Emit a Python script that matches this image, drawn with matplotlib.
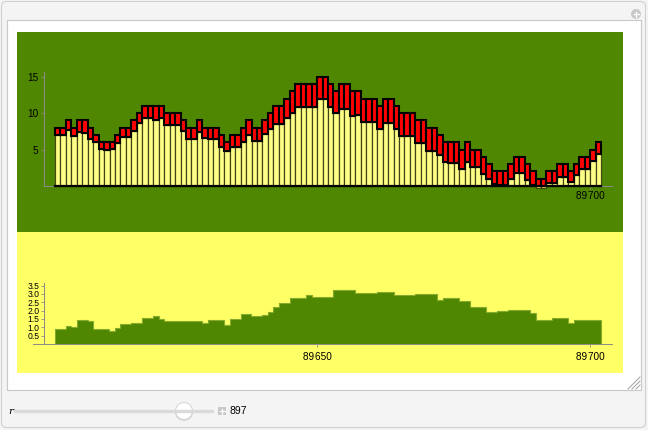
import numpy as np
import matplotlib
matplotlib.use("Agg")
import matplotlib.pyplot as plt
from matplotlib.patches import Rectangle, Circle, FancyBboxPatch

plt.rcParams['font.family'] = ['Liberation Sans', 'DejaVu Sans']

# ---- data ----
start_year = 89602
totals = [8, 8, 9, 8, 9, 9, 8, 7, 6, 6, 6, 7, 8, 8, 9, 10, 11, 11, 11, 11,
          10, 10, 10, 9, 8, 8, 9, 8, 8, 8, 7, 6, 7, 7, 8, 9, 8, 8, 9, 10,
          11, 11, 12, 13, 14, 14, 14, 14, 15, 15, 14, 13, 14, 14, 13, 13, 12, 12, 12, 11,
          12, 12, 11, 10, 10, 10, 9, 9, 8, 8, 7, 6, 6, 6, 5, 6, 5, 5, 4, 3,
          2, 2, 2, 3, 4, 4, 3, 2, 1, 1, 2, 2, 3, 3, 2, 3, 4, 4, 5, 6]
yellow = [7.0, 7.0, 7.75, 6.9, 7.4, 7.3, 6.5, 6.05, 5.05, 5.0, 5.1, 5.9, 6.7, 6.7, 7.5, 8.6, 9.3, 9.3, 9.1, 9.4,
          8.4, 8.4, 8.4, 7.5, 6.5, 6.5, 7.4, 6.6, 6.4, 6.4, 5.4, 4.85, 5.4, 5.4, 6.05, 7.0, 6.2, 6.2, 7.1, 7.9,
          8.55, 8.55, 9.3, 10.0, 10.9, 10.9, 10.8, 10.9, 11.9, 11.9, 10.9, 10.0, 10.55, 10.55, 9.55, 9.8, 8.8, 8.8, 8.8, 7.85,
          8.6, 8.6, 7.85, 6.85, 6.85, 6.85, 5.85, 5.85, 4.85, 4.85, 4.2, 3.3, 3.1, 3.1, 2.3, 3.3, 2.6, 2.6, 1.6, 1.0,
          0.3, 0.1, 0.1, 1.0, 1.8, 1.8, 0.8, 0.1, -0.25, -0.25, 0.4, 0.4, 1.3, 1.3, 0.6, 1.55, 2.4, 2.4, 3.5, 4.45]
bottom_vals = [0.9, 0.9, 1.1, 1.0, 1.45, 1.45, 1.35, 0.88, 0.88, 0.88, 0.8, 0.98, 1.18, 1.18, 1.26, 1.26, 1.56, 1.56, 1.68, 1.48,
               1.4, 1.4, 1.4, 1.4, 1.4, 1.4, 1.4, 1.24, 1.42, 1.42, 1.42, 1.12, 1.47, 1.47, 1.8, 1.8, 1.68, 1.68, 1.74, 1.92,
               2.23, 2.44, 2.44, 2.75, 2.75, 2.75, 2.95, 2.83, 2.83, 2.83, 2.83, 3.25, 3.25, 3.25, 3.25, 3.05, 3.05, 3.05, 3.05, 3.13,
               3.13, 3.13, 2.95, 2.95, 2.95, 2.95, 2.99, 2.99, 2.99, 2.99, 2.63, 2.73, 2.73, 2.73, 2.55, 2.55, 2.21, 2.21, 2.21, 1.9,
               1.9, 1.96, 1.96, 2.03, 2.03, 2.03, 2.03, 1.87, 1.42, 1.42, 1.42, 1.56, 1.56, 1.56, 1.24, 1.42, 1.42, 1.42, 1.42, 1.42]
top_yticks = [5, 10, 15]
top_xticks = [89700]
bottom_yticks = [0.5, 1.0, 1.5, 2.0, 2.5, 3.0, 3.5]
bottom_xticks = [89650, 89700]
slider_value = "897"

W, H = 648, 430
fig = plt.figure(figsize=(W / 100, H / 100), dpi=100)
fig.patch.set_facecolor('#f4f4f4')

def px_axes(x0, y0, x1, y1, **kw):
    return fig.add_axes([x0 / W, 1 - y1 / H, (x1 - x0) / W, (y1 - y0) / H], **kw)

def grouped(v):
    s = str(v)
    return s[:-3] + '\u200a' + s[-3:]

# background / UI layer
bg = fig.add_axes([0, 0, 1, 1], zorder=0)
bg.set_xlim(0, W); bg.set_ylim(H, 0); bg.axis('off')
bg.add_patch(FancyBboxPatch((1.5, 1.5), W - 4, H - 4, boxstyle="round,pad=0,rounding_size=5",
                            facecolor='#f4f4f4', edgecolor='#d0d0d0', lw=0.8))
bg.add_patch(Rectangle((7, 20), 634, 370, facecolor='white', edgecolor='#c8c8c8', lw=0.8))
green = '#4f8800'
bg.add_patch(Rectangle((17, 32), 606, 200, facecolor=green, edgecolor='none'))
bg.add_patch(Rectangle((17, 232), 606, 141, facecolor='#ffff66', edgecolor='none'))
# top-right icon
bg.add_patch(Circle((636, 14), 5, facecolor='#c8c8c8', edgecolor='none'))
bg.plot([633.5, 638.5], [14, 14], color='white', lw=1)
bg.plot([636, 636], [11.5, 16.5], color='white', lw=1)
# resize grip
for d in (4, 8, 12):
    bg.plot([640 - d, 640], [389, 389 - d], color='#a0a0a0', lw=0.7)
# slider
bg.text(8, 411, 'r', fontsize=7.5, style='italic', va='center', ha='left', family='DejaVu Serif')
bg.plot([15, 212], [411, 411], color='#dadada', lw=2.5, solid_capstyle='round')
bg.add_patch(Circle((184, 412), 9, facecolor='#d8d8d8', edgecolor='none'))
bg.add_patch(Circle((184, 411), 8.5, facecolor='white', edgecolor='#cfcfcf', lw=0.6))
bg.add_patch(Rectangle((218, 407), 8, 8, facecolor='#c9c9c9', edgecolor='none'))
bg.plot([219.5, 224.5], [411, 411], color='white', lw=0.9)
bg.plot([222, 222], [408.5, 413.5], color='white', lw=0.9)
bg.text(230, 411, slider_value, fontsize=7.5, va='center', ha='left')

# ---- top stacked bar chart ----
n = len(totals)
xc = start_year + np.arange(n) + 0.5
tot = np.array(totals, dtype=float)
yel = np.array(yellow, dtype=float)
red_bottom = np.maximum(yel, 0)
red_h = tot - red_bottom

ax1 = px_axes(44, 71.7, 612, 190.4, zorder=1)
ax1.set_facecolor('none')
ax1.set_xlim(89600, 89704)
ax1.set_ylim(-0.6, 15.7)
ax1.bar(xc, yel, width=1.0, color='#ffff88', edgecolor=(0.1, 0.1, 0, 0.7), linewidth=0.9, zorder=2)
ax1.bar(xc, red_h, bottom=red_bottom, width=1.0, color='#ff0000', edgecolor='black', linewidth=1.5, zorder=3)
ax1.plot([start_year, start_year + n], [0, 0], color='black', lw=1.6, zorder=4)
for s in ('top', 'right'):
    ax1.spines[s].set_visible(False)
ax1.spines['bottom'].set_position(('data', 0))
ax1.spines['left'].set_bounds(0, 15.7)
for s in ('bottom', 'left'):
    ax1.spines[s].set_color('#8c8c8c')
    ax1.spines[s].set_linewidth(0.7)
ax1.set_yticks(top_yticks)
ax1.set_yticklabels([str(v) for v in top_yticks])
ax1.set_xticks(top_xticks)
ax1.set_xticklabels([grouped(v) for v in top_xticks])
ax1.tick_params(axis='both', labelsize=7.2, color='#8c8c8c', length=2.5, width=0.6, pad=1.5)
ax1.tick_params(axis='x', pad=1.0)

# ---- bottom step area chart ----
ax2 = px_axes(33, 283, 612, 344, zorder=1)
ax2.set_facecolor('none')
ax2.set_xlim(89598, 89704)
ax2.set_ylim(0, 3.65)
edges = start_year + np.arange(len(bottom_vals) + 1)
ax2.stairs(bottom_vals, edges, baseline=0, fill=True, color=green, zorder=2)
ax2.stairs(bottom_vals, edges, baseline=0, fill=False, color='#86ab2c', lw=0.8, zorder=3)
for s in ('top', 'right'):
    ax2.spines[s].set_visible(False)
ax2.spines['left'].set_position(('data', 89600))
ax2.spines['bottom'].set_position(('data', 0))
for s in ('bottom', 'left'):
    ax2.spines[s].set_color('#8c8c8c')
    ax2.spines[s].set_linewidth(0.7)
ax2.set_yticks(bottom_yticks)
ax2.set_yticklabels([f'{v:.1f}' for v in bottom_yticks])
ax2.set_xticks(bottom_xticks)
ax2.set_xticklabels([grouped(v) for v in bottom_xticks])
ax2.tick_params(axis='both', labelsize=7.2, color='#8c8c8c', length=2.0, width=0.6, pad=1.5)
ax2.tick_params(axis='y', pad=1.0, labelsize=6.2)
ax2.tick_params(axis='x', pad=4)

fig.savefig('out.png', dpi=100, facecolor=fig.get_facecolor())
